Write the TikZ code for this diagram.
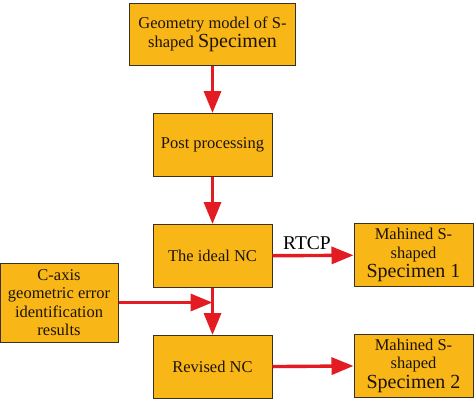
\documentclass[tikz,border=0pt]{standalone}
\usepackage{fontspec}
\setmainfont{Liberation Serif}
\usetikzlibrary{arrows.meta, positioning}
\definecolor{boxfill}{HTML}{F8B716}
\definecolor{arrred}{HTML}{E31B23}
\definecolor{boxline}{HTML}{3A3020}
\newcommand{\bigtxt}{\fontsize{20}{21}\selectfont}

\begin{document}
\begin{tikzpicture}[x=1pt, y=-1pt,
  blk/.style={draw=boxline, line width=1pt, fill=boxfill, align=center,
    inner sep=1pt, font=\fontsize{16.5}{18.5}\selectfont, text=black!85!brown,
    minimum width=119pt, minimum height=63pt},
  arr/.style={draw=arrred, line width=3.4pt, -{Triangle[length=22pt, width=17pt]}}]
\useasboundingbox (0,0) rectangle (474,402);
\node[blk, minimum width=166pt, minimum height=62pt] (geo) at (212.5,34.5) {Geometry model of S-\\shaped {\bigtxt Specimen}};
\node[blk, below = 47pt of geo] (post) {Post processing};
\node[blk, below = 47pt of post] (ideal) {The ideal NC};
\node[blk, below = 47pt of ideal] (rev) {Revised NC};
\node[blk, minimum width=118pt, minimum height=79pt] (caxis) at (59,302.5) {C-axis\\geometric error\\identification\\results};
\node[blk] (spec1) at (413.5,255) {Mahined S-\\shaped\\[1pt]{\bigtxt Specimen 1}};
\node[blk] (spec2) at (413.5,365.5) {Mahined S-\\shaped\\[1pt]{\bigtxt Specimen 2}};
\draw[arr] (geo) -- (post);
\draw[arr] (post) -- (ideal);
\draw[arr] (ideal) -- node[above, font=\fontsize{19.5}{21}\selectfont, text=black, xshift=-6pt, yshift=1pt] (rtcp) {RTCP} (spec1);
\draw[arr] (ideal) -- (rev);
\draw[arr] (caxis.east) -- (caxis.east -| ideal.south);
\draw[arr] (rev) -- (spec2);
\end{tikzpicture}
\end{document}
